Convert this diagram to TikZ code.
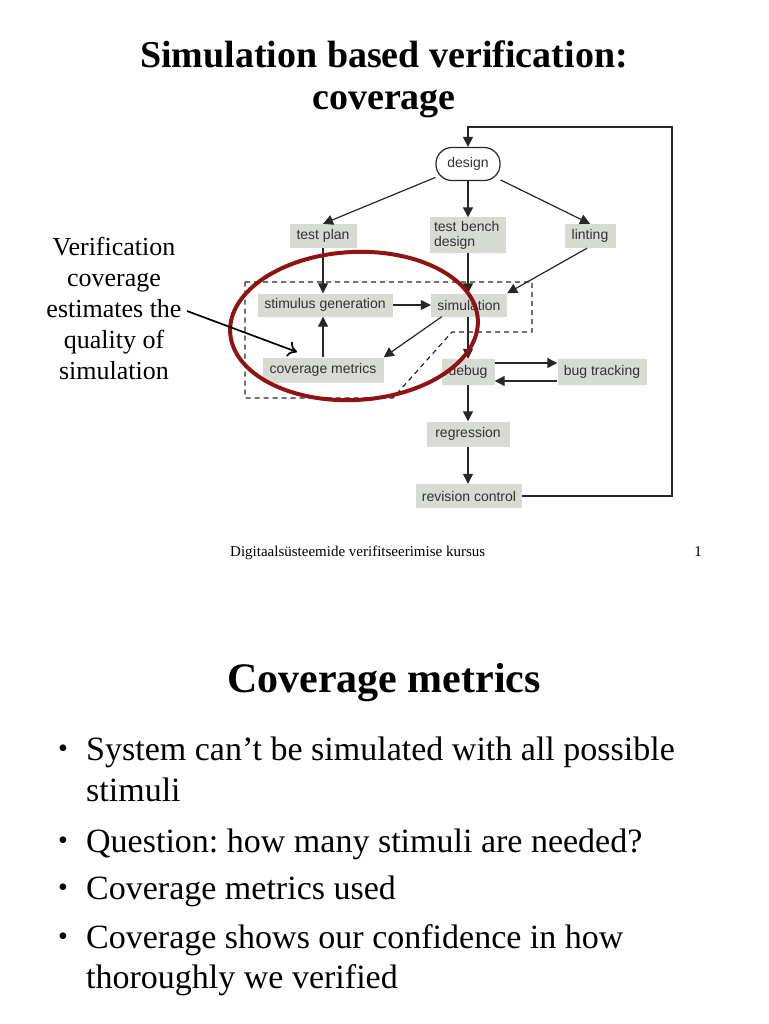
\documentclass[tikz,border=0pt]{standalone}
\usepackage{fontspec}
\setmainfont{Liberation Serif}
\newfontfamily\arialfont{Liberation Sans}
\usetikzlibrary{arrows.meta,positioning}
\frenchspacing
\definecolor{boxfill}{HTML}{D7DBD3}
\definecolor{boxtext}{HTML}{333333}
\definecolor{linecol}{HTML}{262826}
\definecolor{ellred}{HTML}{8E1414}
\tikzset{
  flowbox/.style={fill=boxfill, inner sep=0pt, text=boxtext, font=\arialfont\fontsize{14}{15}\selectfont, align=left},
  flowarrow/.style={draw=linecol, line width=1.2pt, -{Triangle[length=10pt,width=10pt]}},
  dashbox/.style={draw=linecol, line width=1.2pt, dash pattern=on 5pt off 4pt},
  slidetext/.style={anchor=base, inner sep=0pt},
  anntext/.style={anchor=base, inner sep=0pt, font=\fontsize{26}{28}\selectfont},
  bullettext/.style={anchor=base west, inner sep=0pt, font=\fontsize{34}{38}\selectfont},
  bulletdot/.style={anchor=base, inner sep=0pt, font=\fontsize{28}{28}\selectfont}
}
\begin{document}
\begin{tikzpicture}[x=1pt,y=-1pt]
\useasboundingbox (0,0) rectangle (768,1024);
\fill[white] (0,0) rectangle (768,1024);

% Title
\node[slidetext, font=\bfseries\fontsize{38}{42}\selectfont] (title1) at (384,68) {Simulation based verification:};
\node[slidetext, font=\bfseries\fontsize{38}{42}\selectfont] (title2) at (384,110) {coverage};

% Flow nodes
\node[draw=linecol, line width=1.2pt, rounded corners=16pt, minimum width=64pt, minimum height=33pt, inner sep=0pt, text=boxtext, font=\arialfont\fontsize{14}{15}\selectfont] (design) at (468,164) {design};
\node[flowbox, minimum width=67pt, minimum height=24pt] (testplan) at (323,236) {test plan};
\node[flowbox, minimum width=76pt, minimum height=35pt, text width=68pt] (tbd) at (468,235) {test bench\\design};
\node[flowbox, minimum width=51pt, minimum height=24pt] (linting) at (590,236) {linting};
\node[flowbox, minimum width=135pt, minimum height=23pt] (stim) at (325,305) {stimulus generation};
\node[flowbox, minimum width=76pt, minimum height=23pt] (sim) at (469,305) {simulation};
\node[flowbox, minimum width=121pt, minimum height=25pt] (cov) at (323,370) {coverage metrics};
\node[flowbox, minimum width=53pt, minimum height=26pt] (debug) at (468,372) {debug};
\node[flowbox, minimum width=89pt, minimum height=26pt] (bug) at (602,372) {bug tracking};
\node[flowbox, minimum width=83pt, minimum height=25pt] (regr) at (468,434) {regression};
\node[flowbox, minimum width=106pt, minimum height=24pt] (rev) at (469,496) {revision control};

% Dashed region
\draw[dashbox] (245,282) -- (532,282) -- (532,332) -- (452,332) -- (393,398) -- (245,398) -- cycle;

% Arrows
\draw[flowarrow] (design) -- (testplan.north);
\draw[flowarrow] (design) -- (tbd.north);
\draw[flowarrow] (design) -- (linting.north);
\draw[flowarrow] (testplan) -- (testplan |- stim.north);
\draw[flowarrow] (tbd) -- (tbd |- sim.north);
\draw[flowarrow] ([xshift=-3pt]linting.south) -- (sim.north east);
\draw[flowarrow] (stim) -- (sim);
\draw[flowarrow] ([xshift=11pt]sim.south west) -- (cov.north east);
\draw[flowarrow] (cov) -- (cov |- stim.south);
\draw[flowarrow] (sim.south -| debug) -- (debug.north);
\draw[flowarrow] ([yshift=9pt]debug.east) -- ([yshift=9pt]bug.west);
\draw[flowarrow] ([yshift=-9pt]bug.west) -- ([yshift=-9pt]debug.east);
\draw[flowarrow] (debug) -- (regr);
\draw[flowarrow] (regr) -- (regr |- rev.north);
\coordinate (fb1) at (672,496);
\coordinate (fb2) at (672,127);
\coordinate (fb3) at (468,127);
\draw[flowarrow] (rev.east) -- (fb1) -- (fb2) -- (fb3) -- (design.north);

% Red ellipse
\draw[ellred, line width=4pt] (354,326) ellipse [x radius=124, y radius=74, rotate=3];

% Annotation
\node[anntext] (ann1) at (114,255) {Verification};
\node[anntext] (ann2) at (114,286) {coverage};
\node[anntext] (ann3) at (114,317) {estimates the};
\node[anntext] (ann4) at (114,348) {quality of};
\node[anntext] (ann5) at (114,379) {simulation};
\coordinate (annstart) at (187,311);
\coordinate (annend) at (297,352);
\draw[black, line width=1.7pt, -{To[length=9pt,width=16pt]}] (annstart) -- (annend);

% Footer
\node[slidetext, anchor=base west, font=\fontsize{15}{17}\selectfont] (foot) at (230,556) {Digitaalsüsteemide verifitseerimise kursus};
\node[slidetext, font=\fontsize{15}{17}\selectfont] (pnum) at (698,556) {1};

% Second slide
\node[slidetext, font=\bfseries\fontsize{42}{46}\selectfont] (title3) at (384,692) {Coverage metrics};

\node[bulletdot] (b1) at (63,757) {•};
\node[bullettext] (t1) at (86,760) {System can’t be simulated with all possible};
\node[bullettext] (t1b) at (86,801) {stimuli};
\node[bulletdot] (b2) at (63,849) {•};
\node[bullettext] (t2) at (86,852) {Question: how many stimuli are needed?};
\node[bulletdot] (b3) at (63,896) {•};
\node[bullettext] (t3) at (86,899) {Coverage metrics used};
\node[bulletdot] (b4) at (63,945) {•};
\node[bullettext] (t4) at (86,948) {Coverage shows our confidence in how};
\node[bullettext] (t4b) at (86,988) {thoroughly we verified};
\end{tikzpicture}
\end{document}
